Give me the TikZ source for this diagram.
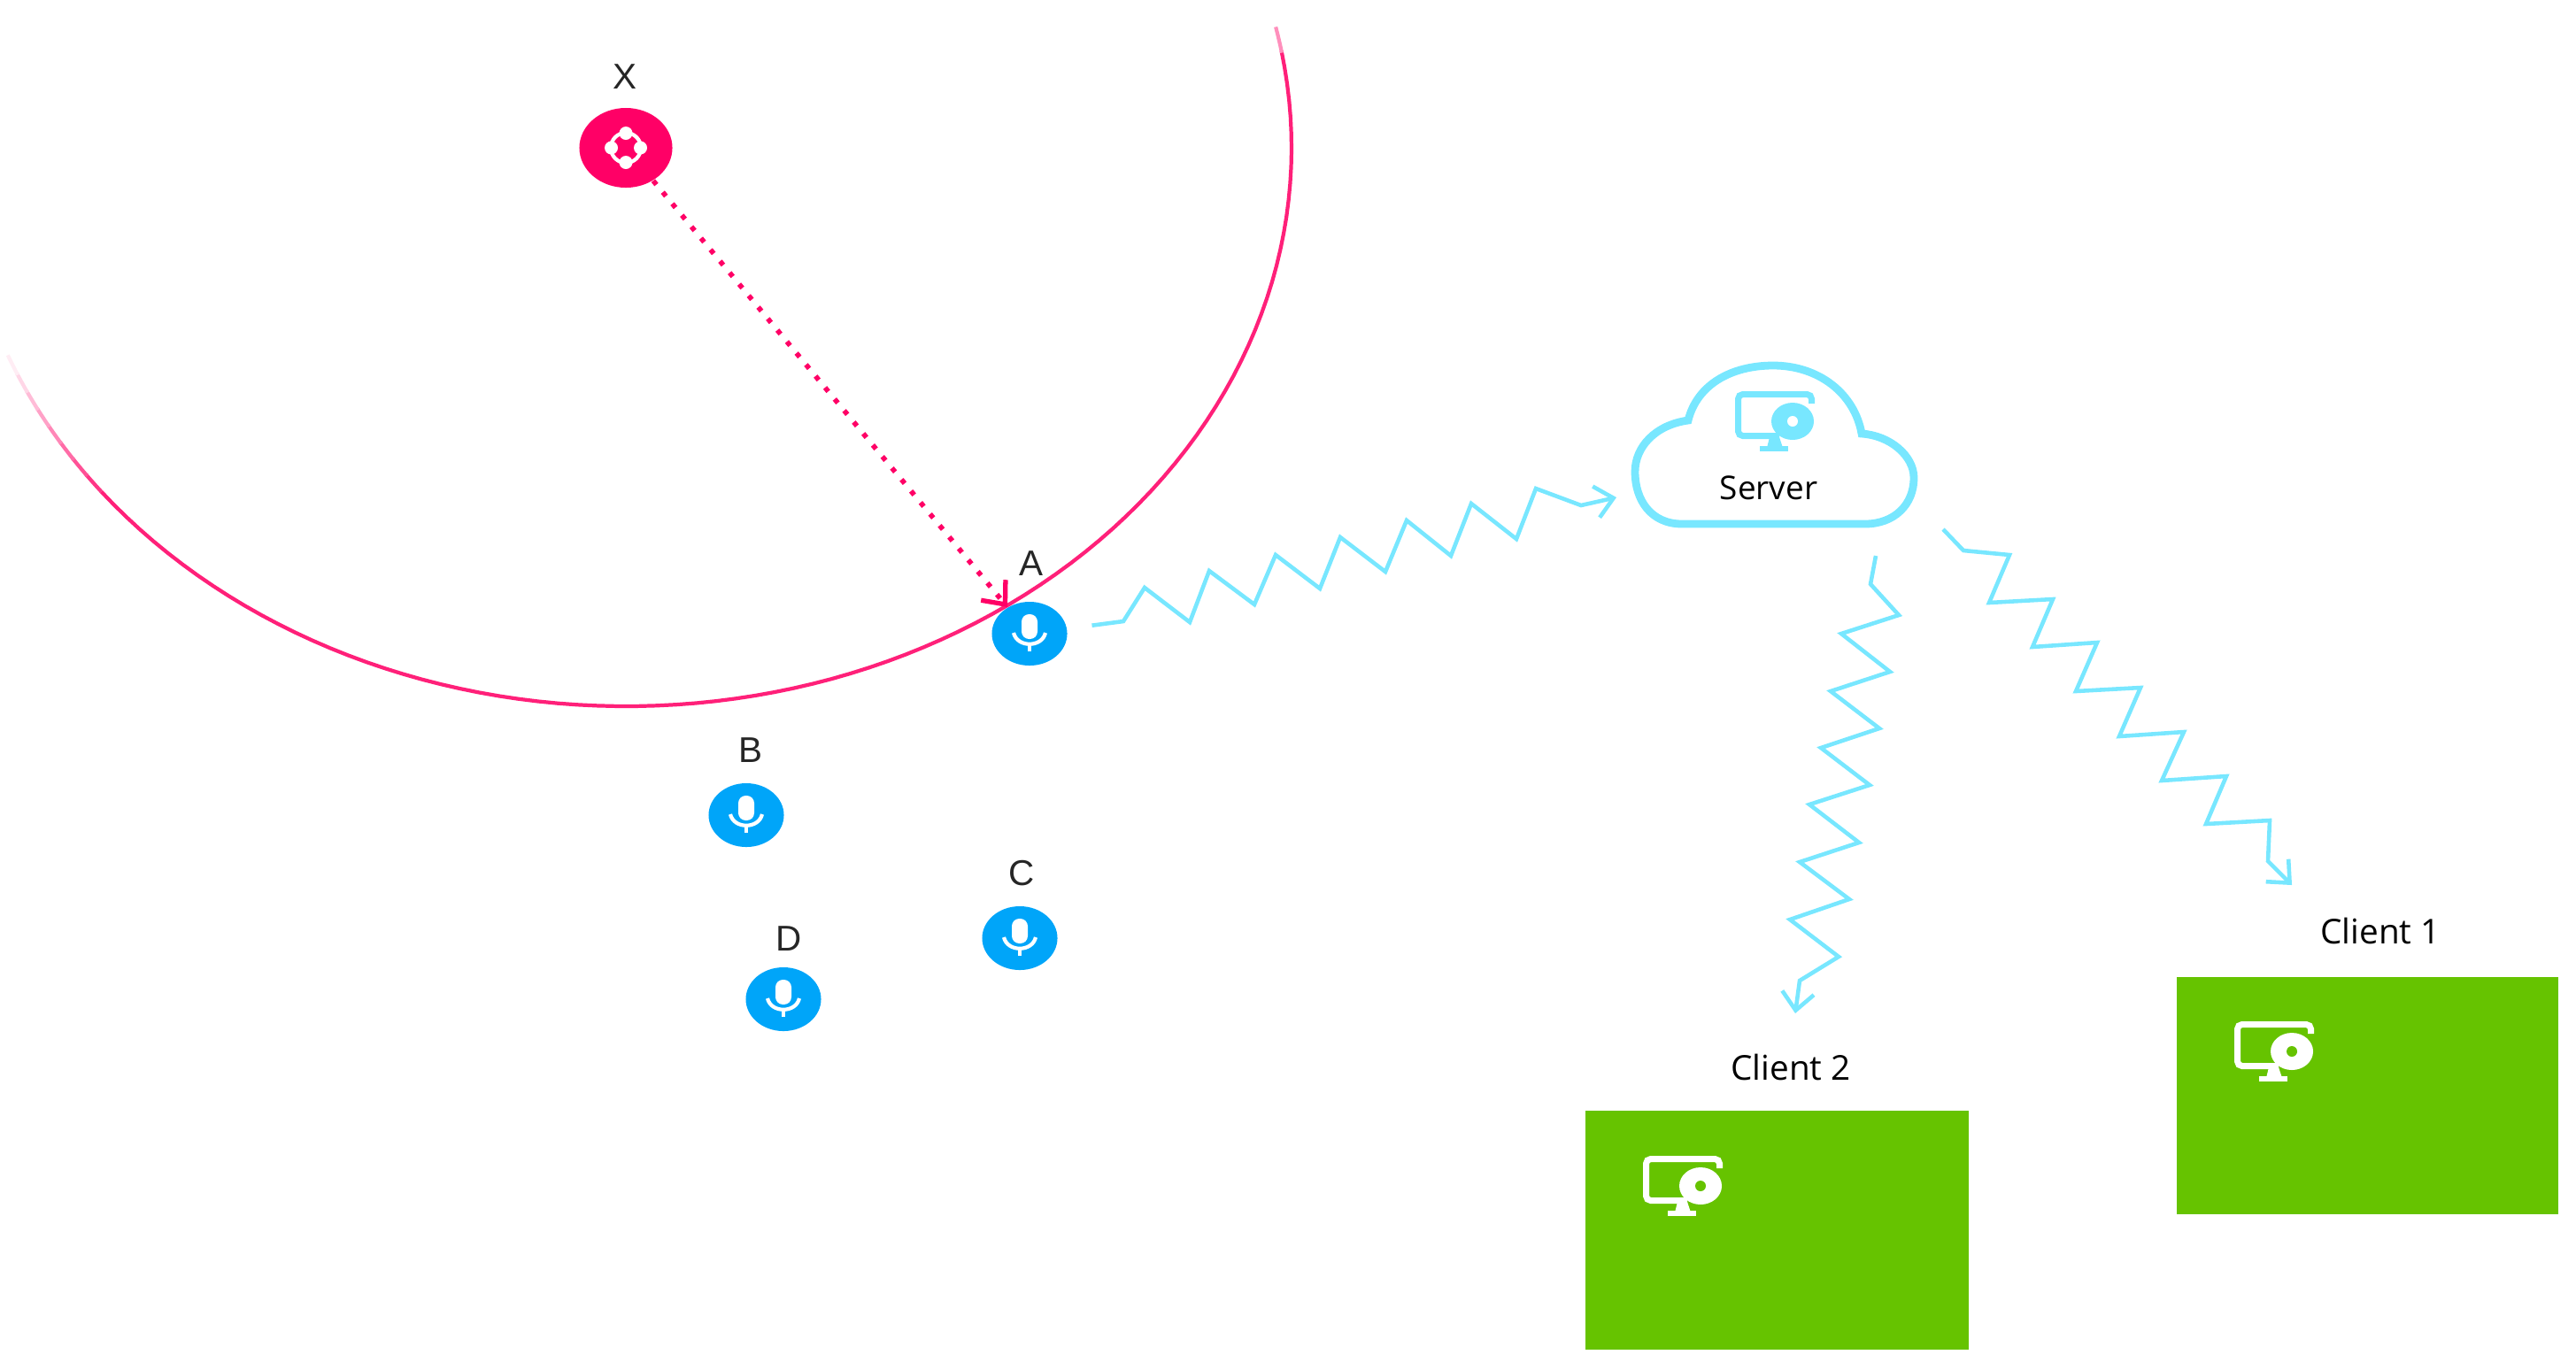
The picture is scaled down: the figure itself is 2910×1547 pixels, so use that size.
\documentclass[tikz,border=0pt]{standalone}
\usepackage{fontspec}
\setmainfont{Liberation Sans}
\newfontfamily\uifont{Open Sans}
\usetikzlibrary{arrows.meta,shapes.geometric}
\definecolor{ringpink}{HTML}{FF0066}
\definecolor{ringsoft}{HTML}{FF2079}
\definecolor{micblue}{HTML}{00A5F9}
\definecolor{wavecyan}{HTML}{78E7FF}
\definecolor{clientgreen}{HTML}{66C300}
\definecolor{textdark}{HTML}{262626}
\tikzset{
  ringline/.style={draw=ringsoft, line width=1.2pt},
  talker/.style={ellipse, fill=ringpink, minimum width=1.05cm, minimum height=0.9cm, inner sep=0pt},
  micdot/.style={ellipse, fill=micblue, minimum width=0.85cm, minimum height=0.72cm, inner sep=0pt},
  tag/.style={font=\fontsize{11.5}{13}\selectfont, text=textdark},
  uitag/.style={font=\uifont\fontsize{10.5}{12}\selectfont, text=black},
  clienttag/.style={font=\uifont\fontsize{11}{13}\selectfont, text=black},
  clientbox/.style={rectangle, fill=clientgreen, inner sep=0pt},
  speakarrow/.style={draw=ringpink, line width=1.6pt, dash pattern=on 1.6pt off 3.2pt,
    -{Straight Barb[length=2.1mm,width=3.6mm,line width=1.5pt]}},
  wave/.style={draw=wavecyan, line width=1.3pt, line join=miter,
    -{Straight Barb[length=2mm,width=3.6mm,line width=1.3pt]}}
}
\newcommand{\micglyph}[1]{
  \begin{scope}[shift={(#1)}]
    \fill[white, rounded corners=2.4pt] (-9,-22) rectangle (9,6);
    \draw[white, line width=1.2pt] (-18,-1) .. controls (-14,16) and (14,16) .. (18,-1);
    \draw[white, line width=1.2pt] (0,11) -- (0,20);
  \end{scope}
}
\newcommand{\monglyph}[3]{
  \begin{scope}[shift={(#1)}]
    \draw[#2, line width=2pt, rounded corners=1.5pt] (86.5,14) -- (86.5,3.5) -- (3.5,3.5) -- (3.5,50.5) -- (50,50.5);
    \fill[#2] (39,52) -- (50,52) -- (54,64) -- (36,64) -- cycle;
    \fill[#2] (28,62) rectangle (60,68);
    \fill[#2] (65,34) ellipse [x radius=24, y radius=21];
    \fill[#3] (65,34) ellipse [x radius=6, y radius=6];
  \end{scope}
}

\begin{document}
\begin{tikzpicture}[x=0.01cm,y=-0.01cm]
\useasboundingbox (0,0) rectangle (2910,1547);
% ring around the talker
\draw[ringline] plot[domain=-10:142,samples=90] ({707+752*cos(\x)},{167+631*sin(\x)});
\foreach \ang/\fade in {142/90,144/78,146/66,148/54,150/42,152/30,154/18,156/8}
  \draw[draw=ringsoft!\fade, line width=1.2pt] plot[domain=\ang:\ang+2.2,samples=4] ({707+752*cos(\x)},{167+631*sin(\x)});
\draw[draw=ringsoft!50, line width=1.2pt] plot[domain=-12.5:-9.8,samples=4] ({707+752*cos(\x)},{167+631*sin(\x)});

\node[talker] (talkerX) at (707,167) {};
\draw[white, line width=1.2pt] (talkerX) circle [x radius=17, y radius=17];
\foreach \ang in {0,90,180,270}
  \fill[white] (talkerX) ++(\ang:16.5) circle [x radius=7.5, y radius=7.5];
\node[tag] (tagX) at (706,87) {X};

\node[micdot] (micA) at (1163,716) {};
\node[micdot] (micB) at (843,921) {};
\node[micdot] (micC) at (1152,1060) {};
\node[micdot] (micD) at (885,1129) {};
\micglyph{micA}
\micglyph{micB}
\micglyph{micC}
\micglyph{micD}
\node[tag] (tagA) at (1165,637) {A};
\node[tag] (tagB) at (848,848) {B};
\node[tag] (tagC) at (1154,987) {C};
\node[tag] (tagD) at (891,1061) {D};
\draw[speakarrow] (talkerX) -- (micA);

% server cloud
\draw[draw=wavecyan, line width=2.5pt] (1900,592) .. controls (1865,592) and (1847,565) .. (1847,533)
  .. controls (1847,505) and (1870,480) .. (1907,475)
  .. controls (1917,435) and (1955,413) .. (2003,413)
  .. controls (2055,413) and (2095,445) .. (2103,490)
  .. controls (2135,492) and (2162,515) .. (2162,540)
  .. controls (2162,570) and (2140,592) .. (2107,592) -- cycle;
\monglyph{1960,442}{wavecyan}{white}
\node[uitag] (server) at (1998,551) {Server};
\coordinate (serverW) at (1826,562);

% clients
\node[clientbox, minimum width=4.33cm, minimum height=2.69cm] (clientTwo) at (2007.5,1390) {};
\node[clientbox, minimum width=4.31cm, minimum height=2.68cm] (clientOne) at (2674.5,1238) {};
\monglyph{1856,1306}{white}{clientgreen}
\monglyph{2524,1154}{white}{clientgreen}
\node[clienttag] (tagOne) at (2689,1052) {Client 1};
\node[clienttag] (tagTwo) at (2023,1206) {Client 2};
\coordinate (serverS) at (2119,628);
\coordinate (serverE) at (2195,598);
\coordinate (twoIn) at (2028,1145);
\coordinate (oneIn) at (2589,1000);

\draw[wave, shorten <=0.28cm] (micA) -- (1269,702) -- (1293,664) -- (1344,703) -- (1366,645) -- (1417,683) -- (1441,627) -- (1491,665) -- (1514,607) -- (1565,646) -- (1589,588) -- (1639,628) -- (1662,569) -- (1713,609) -- (1735,552) -- (1786,571) -- (serverW);
\draw[wave] (serverS) -- (2113,660) -- (2145,695) -- (2080,716) -- (2135,759) -- (2068,781) -- (2123,823) -- (2057,845) -- (2112,887) -- (2044,909) -- (2100,952) -- (2033,974) -- (2089,1016) -- (2022,1039) -- (2077,1081) -- (2033,1108) -- (twoIn);
\draw[wave] (serverE) -- (2218,622) -- (2270,627) -- (2247,681) -- (2319,677) -- (2296,731) -- (2369,726) -- (2345,781) -- (2418,777) -- (2394,832) -- (2467,827) -- (2442,882) -- (2515,877) -- (2492,931) -- (2564,927) -- (2562,973) -- (oneIn);
\end{tikzpicture}
\end{document}
